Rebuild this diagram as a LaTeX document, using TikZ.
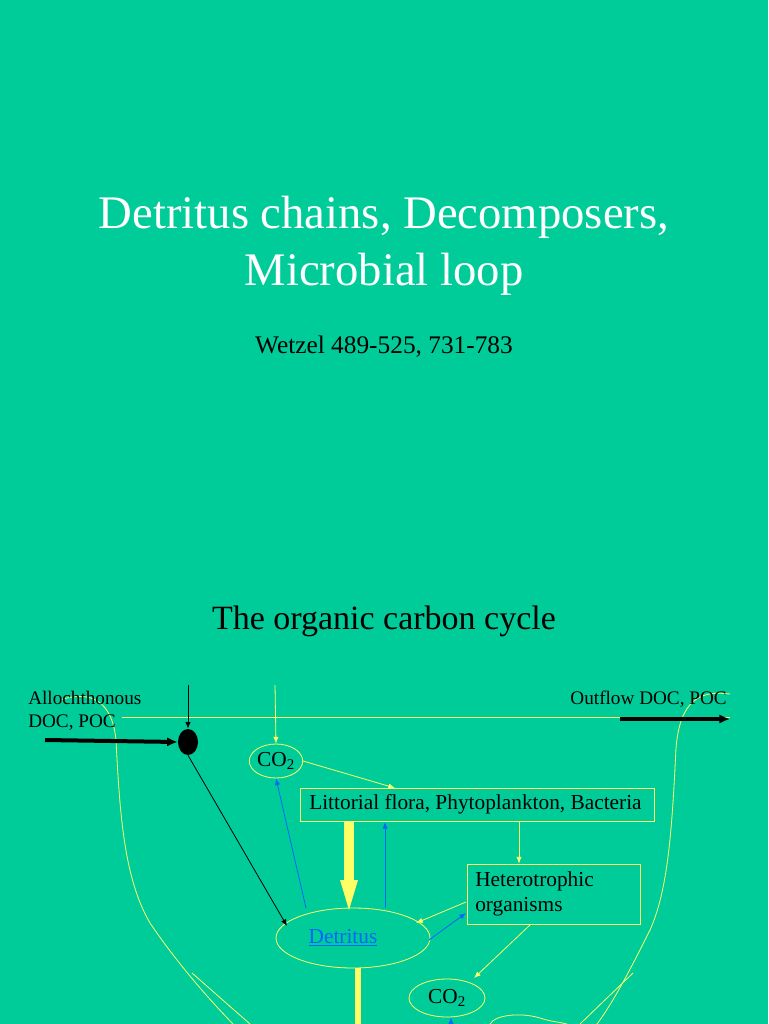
\documentclass[tikz,border=0pt]{standalone}
\usepackage{fontspec}
\setmainfont{Liberation Serif}
\usetikzlibrary{arrows.meta,shapes.geometric}
\definecolor{bg}{HTML}{00CC99}
\definecolor{yl}{HTML}{FFFF66}
\definecolor{bl}{HTML}{0066FF}
\tikzset{
  yline/.style={draw=yl, line width=0.6pt},
  yarr/.style={yline, -{Latex[length=5pt,width=4pt]}},
  barr/.style={draw=bl, line width=0.6pt, -{Latex[length=5pt,width=4pt]}},
  lbl/.style={font=\fontsize{14.4}{17}\selectfont, text=black, inner sep=0pt},
  big/.style={font=\fontsize{16}{19}\selectfont},
  ybox/.style={draw=yl, line width=0.6pt, inner sep=0pt},
}
\begin{document}
\begin{tikzpicture}[x=0.75pt,y=-0.75pt]
\fill[bg] (0,0) rectangle (768,1024);
\useasboundingbox (0,0) rectangle (768,1024);
% titles
\node[text=white, font=\fontsize{35}{43}\selectfont, align=center] (title) at (384,246) {Detritus chains, Decomposers,\\Microbial loop};
\node[font=\fontsize{19}{22}\selectfont] (ref) at (384,347) {Wetzel 489-525, 731-783};
\node[font=\fontsize{25.5}{30}\selectfont] (sub) at (384,621) {The organic carbon cycle};
% curves
\draw[yline] (60,700) .. controls (90,690) and (112,700) .. (116,740) .. controls (120,820) and (125,880) .. (150,923) .. controls (175,960) and (205,995) .. (233,1024);
\draw[yline] (192,973) -- (250,1024);
\draw[yline] (730,694) .. controls (700,690) and (680,700) .. (676,748) .. controls (672,830) and (668,890) .. (650,930) .. controls (635,960) and (615,1000) .. (597,1024);
\draw[yline] (633,973) -- (580,1024);
\draw[yline] (490,1024) .. controls (495,1015) and (520,1012) .. (540,1018) .. controls (552,1022) and (560,1022) .. (567,1024);
% labels
\node[lbl, anchor=north west, align=left] (allo) at (28,691) {Allochthonous\\DOC, POC};
\node[lbl, anchor=north east] (out) at (727,691) {Outflow DOC, POC};
\coordinate (hl) at (122,717);
\coordinate (hr) at (730,717);
\draw[yline] (hl) -- (hr);
% black dot
\node[fill=black, ellipse, minimum width=15pt, minimum height=19.5pt, inner sep=0pt] (dot) at (188,742) {};
\coordinate (ain) at (45,740);
\draw[line width=3pt, -{Latex[length=8pt,width=7pt]}] (ain) -- (dot.west);
\coordinate (atop) at (188,685);
\draw[line width=0.6pt, -{Latex[length=5pt,width=4pt]}] (atop) -- (dot.north);
\coordinate (oa) at (620,719);
\coordinate (ob) at (730,719);
\draw[line width=3pt, -{Latex[length=8pt,width=7pt]}] (oa) -- (ob);
% nodes
\node[yline, ellipse, minimum width=34.5pt, minimum height=25.5pt, inner sep=0pt, big] (co2a) at (276,761) {CO\textsubscript{2}};
\node[ybox, minimum width=265.5pt, minimum height=24.75pt] (lit) at (477,804.5) {};
\node[lbl, big, anchor=west] (litt) at (309,804.5) {Littorial flora, Phytoplankton, Bacteria};
\node[ybox, minimum width=129.75pt, minimum height=45pt] (het) at (553.5,894) {};
\node[lbl, big, anchor=west, align=left] (hett) at (475,894) {Heterotrophic\\organisms};
\node[yline, ellipse, minimum width=115.5pt, minimum height=45pt, inner sep=0pt] (detE) at (353,938) {};
\node[lbl, big, text=bl] (det) at (343,938) {\underline{Detritus}};
\node[yline, ellipse, minimum width=57pt, minimum height=28.5pt, inner sep=0pt, big] (co2b) at (447,998) {CO\textsubscript{2}};
% connectors
\coordinate (yt) at (275,685);
\draw[yarr] (yt) -- (co2a.north);
\draw[yarr] (co2a.east) -- (395,788);
\draw[draw=yl, line width=7pt] (349,821) -- (349,880);
\fill[yl] (340,880) -- (358,880) -- (349,910) -- cycle;
\draw[barr] (385,908) -- (385,822);
\draw[barr] (306,908) -- (co2a.south);
\draw[line width=0.6pt, -{Latex[length=5pt,width=4pt]}] (dot.south) -- (287,926);
\draw[yarr] (519,821) -- (het.north -| 519,0);
\draw[yarr] (466,902) -- (416,923);
\draw[barr] (429,940) -- (466,913);
\draw[draw=yl, line width=5pt] (358,968) -- (358,1024);
\draw[yarr] (530,925) -- (474,978);
\coordinate (bb) at (451,1024);
\draw[barr] (bb) -- (co2b.south -| bb);
\end{tikzpicture}
\end{document}
